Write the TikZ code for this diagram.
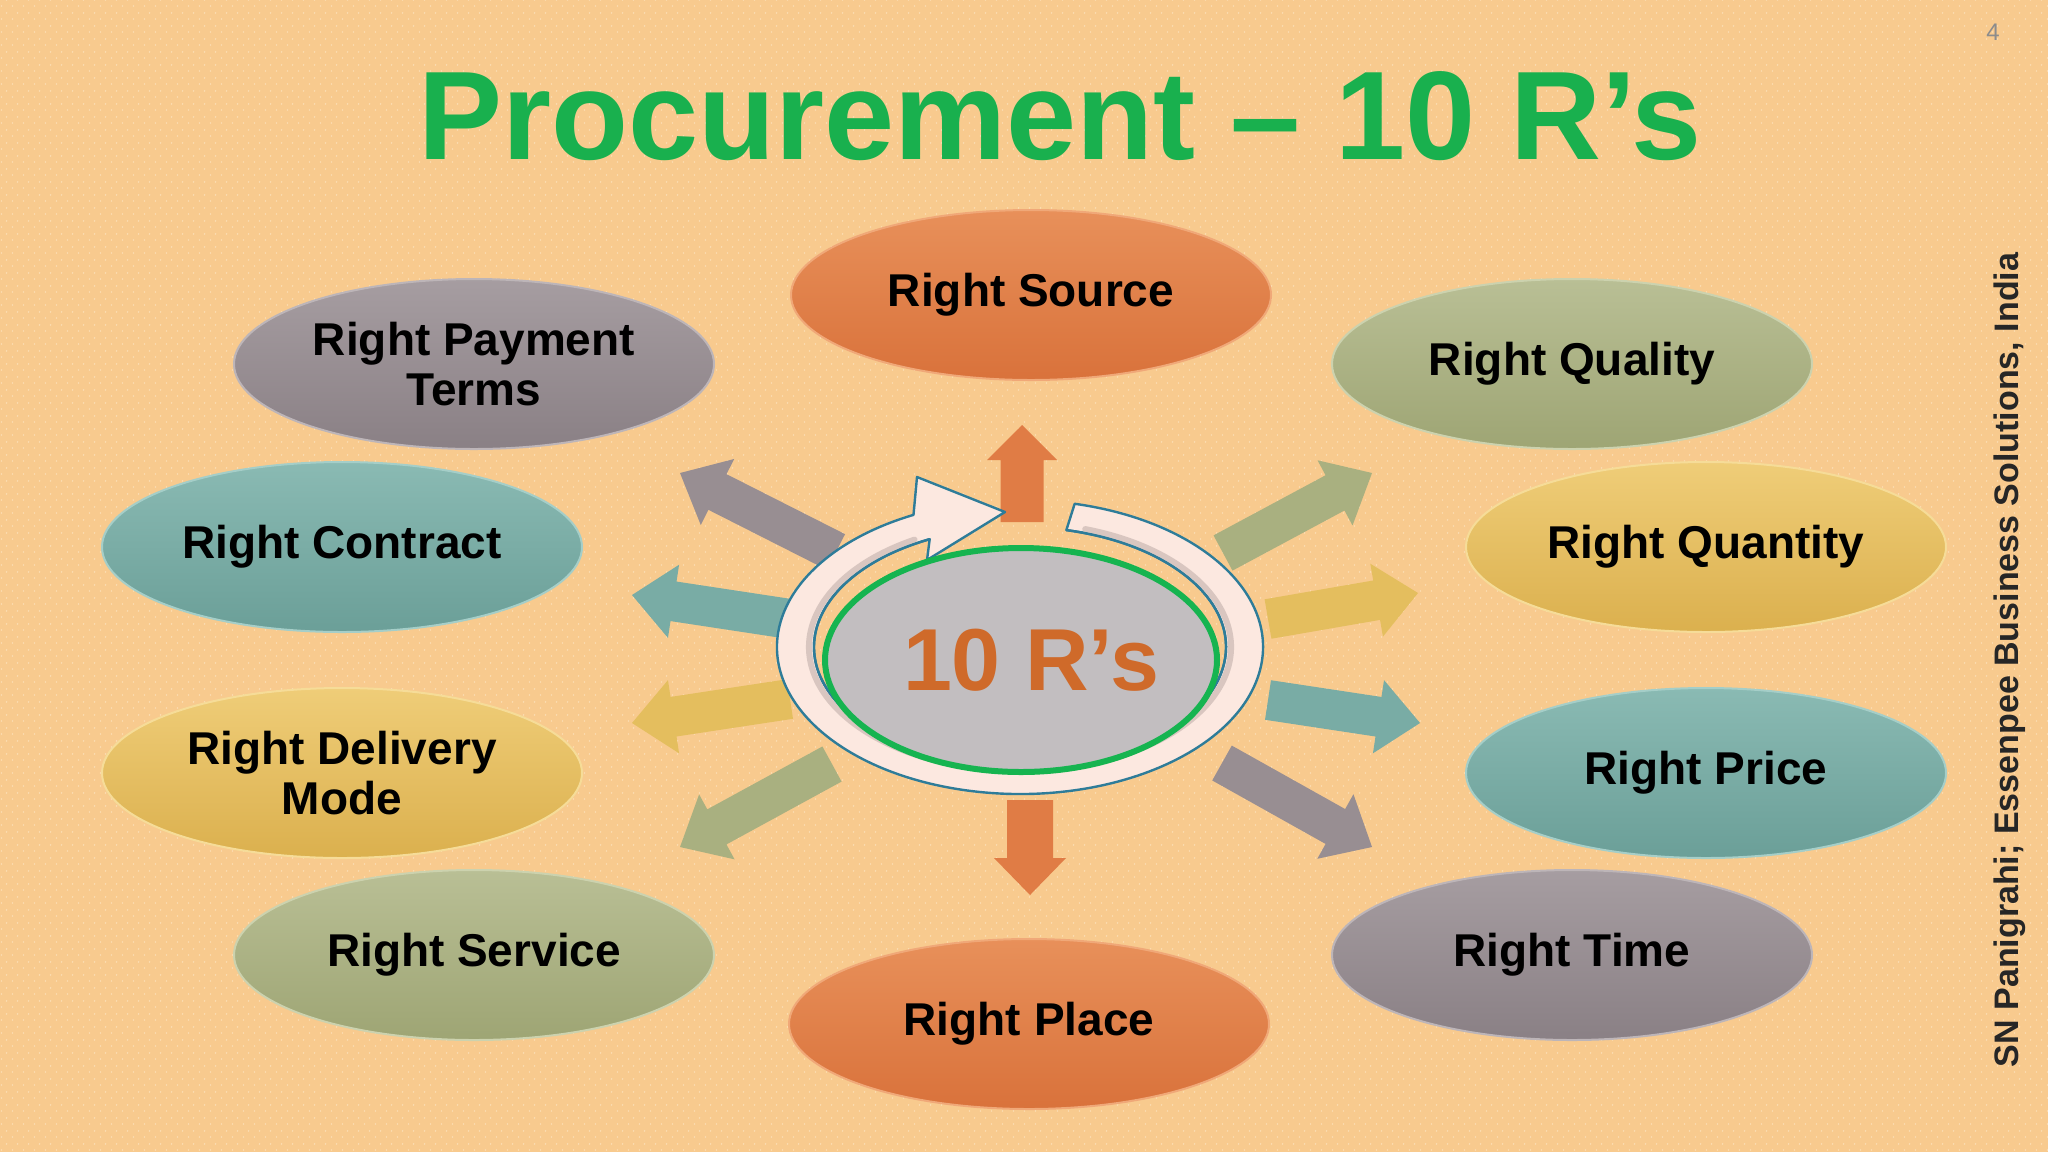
\documentclass[tikz,border=0pt]{standalone}
\usepackage{fontspec}
\setmainfont{Liberation Sans}
\usetikzlibrary{calc,shapes.geometric,patterns.meta}

\definecolor{bgc}{HTML}{F8CA8E}
\definecolor{bgdot}{HTML}{FCDDB2}
\definecolor{titlegreen}{HTML}{19B04E}
\definecolor{hubgreen}{HTML}{16B450}
\definecolor{hubgrey}{HTML}{C2BEC0}
\definecolor{rorange}{HTML}{CF6A2A}
\definecolor{ringfill}{HTML}{FCE8E0}
\definecolor{ringshade}{HTML}{D9C6C0}
\definecolor{ringline}{HTML}{2E7C99}
\definecolor{orA}{HTML}{E8905A}\definecolor{orB}{HTML}{D9723B}\definecolor{orC}{HTML}{F0A878}\definecolor{orM}{HTML}{E07C45}
\definecolor{grA}{HTML}{A69DA1}\definecolor{grB}{HTML}{8A8085}\definecolor{grC}{HTML}{BDB5B8}\definecolor{grM}{HTML}{988E92}
\definecolor{olA}{HTML}{B9BF95}\definecolor{olB}{HTML}{9EA574}\definecolor{olC}{HTML}{CCD2AE}\definecolor{olM}{HTML}{A9B080}
\definecolor{teA}{HTML}{8ABAB3}\definecolor{teB}{HTML}{6B9F98}\definecolor{teC}{HTML}{A5CEC8}\definecolor{teM}{HTML}{79ACA5}
\definecolor{goA}{HTML}{EFCD78}\definecolor{goB}{HTML}{DBB04E}\definecolor{goC}{HTML}{F6DC98}\definecolor{goM}{HTML}{E4BE5E}

\tikzdeclarepattern{
  name=bgdots,
  type=uncolored,
  bounding box={(0pt,0pt) and (5.5pt,6.5pt)},
  tile size={(5.5pt,6.5pt)},
  code={
    \fill (1.375pt,1.625pt) circle (0.5pt);
    \fill (4.125pt,4.875pt) circle (0.5pt);
  }
}

% block arrow: tail, tip, shaft half, head half, head length, colour
\newcommand\blockarr[6]{%
  \coordinate (ba-n) at ($(#2)!#5!(#1)$);
  \fill[#6] ($(#1)!#3!90:(#2)$) -- ($(ba-n)!#3!90:(#2)$) -- ($(ba-n)!#4!90:(#2)$)
    -- (#2) -- ($(ba-n)!#4!-90:(#2)$) -- ($(ba-n)!#3!-90:(#2)$)
    -- ($(#1)!#3!-90:(#2)$) -- cycle;}

\begin{document}
\begin{tikzpicture}[x=0.5pt,y=-0.5pt,
  oval/.style={ellipse, minimum width=240pt, minimum height=85pt, inner sep=0pt,
    align=center, text=black, line width=1pt,
    font=\fontsize{23}{25}\selectfont\bfseries},
  ovorange/.style={oval, top color=orA, bottom color=orB, draw=orC},
  ovgrey/.style={oval, top color=grA, bottom color=grB, draw=grC},
  ovolive/.style={oval, top color=olA, bottom color=olB, draw=olC},
  ovteal/.style={oval, top color=teA, bottom color=teB, draw=teC},
  ovgold/.style={oval, top color=goA, bottom color=goB, draw=goC},
  titlefont/.style={font=\fontsize{63}{70}\selectfont\bfseries, inner sep=0pt},
  ringstyle/.style={fill=ringfill, draw=ringline, line width=1.2pt, line join=round}]

% background
\fill[bgc] (0,0) rectangle (2048,1152);
\fill[pattern=bgdots, pattern color=bgdot] (0,0) rectangle (2048,1152);
\useasboundingbox (0,0) rectangle (2048,1152);

% title
\node[titlefont, text=titlegreen] (title) at (1060,116) {Procurement – 10 R’s};

% page number and credit
\node[font=\fontsize{12}{12}\selectfont, text=black!45, inner sep=0pt] (pagenum) at (1993,32) {4};
\node[rotate=90, font=\fontsize{17}{17}\selectfont\bfseries, text=black!85, inner sep=0pt] (credit) at (2010,660) {SN Panigrahi; Essenpee Business Solutions, India};

% radiating arrows (behind the ring)
\coordinate (aULt) at (836,552);  \coordinate (aULh) at (680,473);
\coordinate (aL1t) at (790,619);  \coordinate (aL1h) at (632,595);
\coordinate (aL2t) at (790,699);  \coordinate (aL2h) at (632,723);
\coordinate (aLLt) at (832,764);  \coordinate (aLLh) at (680,847);
\coordinate (aURt) at (1223,553); \coordinate (aURh) at (1372,473);
\coordinate (aR1t) at (1268,619); \coordinate (aR1h) at (1418,593);
\coordinate (aR2t) at (1268,700); \coordinate (aR2h) at (1420,723);
\coordinate (aLRt) at (1222,763); \coordinate (aLRh) at (1372,847);
\coordinate (aUt) at (1022,522);  \coordinate (aUh) at (1022,425);
\coordinate (aDt) at (1030,800);  \coordinate (aDh) at (1030,895);

\blockarr{aULt}{aULh}{10pt}{18.5pt}{21pt}{grM}
\blockarr{aL1t}{aL1h}{10pt}{18.5pt}{21pt}{teM}
\blockarr{aL2t}{aL2h}{10pt}{18.5pt}{21pt}{goM}
\blockarr{aLLt}{aLLh}{10pt}{18.5pt}{21pt}{olM}
\blockarr{aURt}{aURh}{10pt}{18.5pt}{21pt}{olM}
\blockarr{aR1t}{aR1h}{10pt}{18.5pt}{21pt}{goM}
\blockarr{aR2t}{aR2h}{10pt}{18.5pt}{21pt}{teM}
\blockarr{aLRt}{aLRh}{10pt}{18.5pt}{21pt}{grM}
\blockarr{aUt}{aUh}{10.75pt}{17.5pt}{17.5pt}{orM}
\blockarr{aDt}{aDh}{11.5pt}{18pt}{18.5pt}{orM}

% circular ring with arrowhead
\coordinate (rc) at (1020,647);
\coordinate (rh1) at (917,477);
\coordinate (rtip) at (1005,512);
\coordinate (rh2) at (927,560);
\filldraw[ringstyle] ($(rc)+(-77:243 and 147)$)
  arc[start angle=-77, end angle=244, x radius=243, y radius=147]
  -- (rh1) -- (rtip) -- (rh2)
  -- ($(rc)+(244:206 and 120)$)
  arc[start angle=244, end angle=-77, x radius=206, y radius=120] -- cycle;
% soft inner shading of the ring tube
\draw[ringshade, line width=3pt, line cap=round] ($(rc)+(-72:211 and 124)$)
  arc[start angle=-72, end angle=240, x radius=211, y radius=124];
\draw[ringline, line width=1.2pt] ($(rc)+(-77:206 and 120)$)
  arc[start angle=-77, end angle=244, x radius=206, y radius=120];

% hub
\node[ellipse, draw=hubgreen, line width=3pt, fill=hubgrey, minimum width=196pt,
  minimum height=112pt, inner sep=0pt, text=rorange,
  font=\fontsize{44}{44}\selectfont\bfseries] (hub) at (1021,660) {\hspace*{10pt}10 R’s};

% the ten ovals
\node[ovorange] (src)   at (1031,295) {Right Source};
\node[ovgrey]   (pay)   at (474,364)  {Right Payment\\Terms};
\node[ovolive]  (qual)  at (1572,364) {Right Quality};
\node[ovteal]   (con)   at (342,547)  {Right Contract};
\node[ovgold]   (qty)   at (1706,547) {Right Quantity};
\node[ovgold]   (del)   at (342,773)  {Right Delivery\\Mode};
\node[ovteal]   (price) at (1706,773) {Right Price};
\node[ovolive]  (serv)  at (474,955)  {Right Service};
\node[ovgrey]   (time)  at (1572,955) {Right Time};
\node[ovorange] (place) at (1029,1024) {Right Place};

\end{tikzpicture}
\end{document}
